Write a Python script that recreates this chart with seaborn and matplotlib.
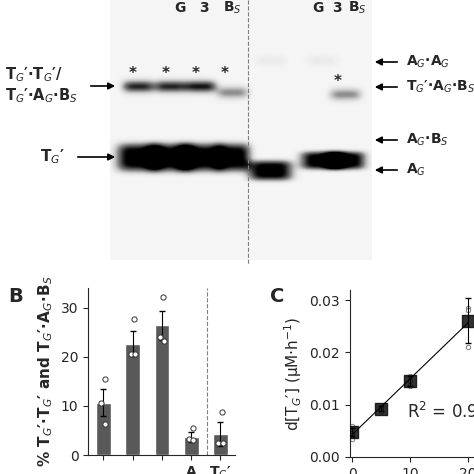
import numpy as np
import matplotlib.pyplot as plt
import seaborn as sns

# panel A: gel bands (lane x-centre, band y-centre, width, height, intensity) in pixel units
gel_lane_x = [138, 170, 200, 232, 270, 322, 345]
gel_main_y = [157, 157, 157, 157, 170, 160, 160]
gel_main_h = [14, 14, 14, 14, 10, 9, 9]
gel_main_w = [22, 22, 22, 18, 22, 22, 20]
gel_main_i = [1.0, 1.0, 1.0, 1.0, 1.0, 1.0, 1.0]
gel_top_y = [86, 86, 86, 92, 60, 60, 94]
gel_top_i = [0.8, 0.8, 0.85, 0.45, 0.08, 0.08, 0.45]

# panel B
b_vals = [10.7, 22.7, 26.4, 3.6, 4.3]
b_err = [2.8, 2.6, 3.0, 1.0, 2.4]
b_pts = [[15.5, 10.6, 6.3], [27.8, 20.5, 20.5], [32.3, 24.0, 23.3], [5.6, 3.3, 3.0], [8.8, 2.5, 2.5]]
b_ticks = ["", "", "", "A", "T$_G$′"]

# panel C
c_x = [0, 5, 10, 20]
c_mean = [0.0048, 0.0092, 0.0145, 0.026]
c_err = [0.0008, 0.0005, 0.001, 0.0043]
c_pts = [[0.006, 0.0045, 0.0035], [0.0095, 0.009, 0.0088], [0.0155, 0.0145, 0.0135], [0.0285, 0.028, 0.021]]

sns.set_style("ticks")
plt.rcParams["font.family"] = ["DejaVu Sans"]
fig = plt.figure(figsize=(4.74, 4.74), dpi=100)

# gel image
ax0 = fig.add_axes([0, 0, 1, 1])
ax0.set_xlim(0, 474)
ax0.set_ylim(474, 0)
ax0.axis("off")
yy, xx = np.mgrid[0:260, 110:372]
img = np.full(xx.shape, 0.08)
for i in range(len(gel_lane_x)):
    img += gel_main_i[i] * np.exp(-(((xx - gel_lane_x[i]) / gel_main_w[i]) ** 4 + ((yy - gel_main_y[i]) / gel_main_h[i]) ** 4))
    img += gel_top_i[i] * np.exp(-(((xx - gel_lane_x[i]) / 16) ** 4 + ((yy - gel_top_y[i]) / 6) ** 2))
img = np.clip(img, 0, 1)
ax0.imshow(img, cmap="Greys", vmin=0, vmax=1, extent=(110, 372, 260, 0), aspect="auto")
ax0.plot([248, 248], [0, 265], ls="--", color="gray", lw=0.8)
for x in [133, 166, 196, 225]:
    ax0.text(x, 78, "*", ha="center", fontsize=11, fontweight="bold")
ax0.text(338, 86, "*", ha="center", fontsize=11, fontweight="bold")
for x, t in [(180, "G"), (204, "3"), (232, "B$_S$"), (318, "G"), (337, "3"), (357, "B$_S$")]:
    ax0.text(x, 12, t, ha="center", fontsize=10, fontweight="bold")
ax0.text(5, 85, "T$_G$′·T$_G$′/\nT$_G$′·A$_G$·B$_S$", fontsize=10.5, va="center", fontweight="bold")
ax0.annotate("", xy=(118, 86), xytext=(88, 86), arrowprops=dict(arrowstyle="-|>", color="k", lw=1.2))
ax0.text(40, 157, "T$_G$′", fontsize=11, va="center", fontweight="bold")
ax0.annotate("", xy=(118, 157), xytext=(75, 157), arrowprops=dict(arrowstyle="-|>", color="k", lw=1.2))
for y, t in [(62, "A$_G$·A$_G$"), (87, "T$_G$′·A$_G$·B$_S$"), (140, "A$_G$·B$_S$"), (170, "A$_G$")]:
    ax0.annotate("", xy=(372, y), xytext=(400, y), arrowprops=dict(arrowstyle="-|>", color="k", lw=1.2))
    ax0.text(406, y, t, fontsize=10, va="center", fontweight="bold")
ax0.text(8, 297, "B", fontsize=14, fontweight="bold", va="center")
ax0.text(270, 297, "C", fontsize=14, fontweight="bold", va="center")

# panel B
axb = fig.add_axes([0.186, 0.04, 0.31, 0.352])
pos = np.arange(len(b_vals))
axb.bar(pos, b_vals, width=0.5, color="#595959", yerr=b_err, capsize=2, error_kw=dict(lw=0.8, ecolor="k"))
for p, pts in zip(pos, b_pts):
    axb.scatter(np.full(len(pts), p) + np.array([0.05, -0.07, 0.07])[:len(pts)], pts,
                s=14, facecolor="white", edgecolor="#333333", lw=0.7, zorder=3)
axb.axvline(3.55, ls="--", color="gray", lw=0.8)
axb.set_xlim(-0.52, 4.5)
axb.set_ylim(0, 34)
axb.set_yticks([0, 10, 20, 30])
axb.set_xticks(pos)
axb.set_xticklabels(b_ticks, fontsize=11, fontweight="bold")
axb.tick_params(labelsize=10)
axb.set_ylabel("% T$_G$′·T$_G$′ and T$_G$′·A$_G$·B$_S$", fontsize=11, fontweight="bold")
sns.despine(ax=axb)

# panel C
axc = fig.add_axes([0.738, 0.036, 0.268, 0.352])
sns.scatterplot(x=np.repeat(c_x, 3), y=np.ravel(c_pts), ax=axc, s=10, facecolor="white",
                edgecolor="gray", lw=0.7, zorder=2)
axc.errorbar(c_x, c_mean, yerr=c_err, fmt="none", ecolor="k", lw=0.8, capsize=2)
sns.regplot(x=c_x, y=c_mean, ax=axc, ci=None, color="k", marker="s",
            scatter_kws=dict(s=70, zorder=3), line_kws=dict(lw=0.8))
axc.set_xlim(-0.4, 21.5)
axc.set_ylim(0, 0.0319)
axc.set_xticks([0, 10, 20])
axc.set_yticks([0, 0.01, 0.02, 0.03])
axc.set_yticklabels(["0.00", "0.01", "0.02", "0.03"])
axc.tick_params(labelsize=10)
axc.set_ylabel("d[T$_G$′] (µM·h$^{-1}$)", fontsize=11)
axc.text(9.5, 0.0075, "R$^2$ = 0.996", fontsize=12)
sns.despine(ax=axc)

fig.savefig("out.png", dpi=100)
